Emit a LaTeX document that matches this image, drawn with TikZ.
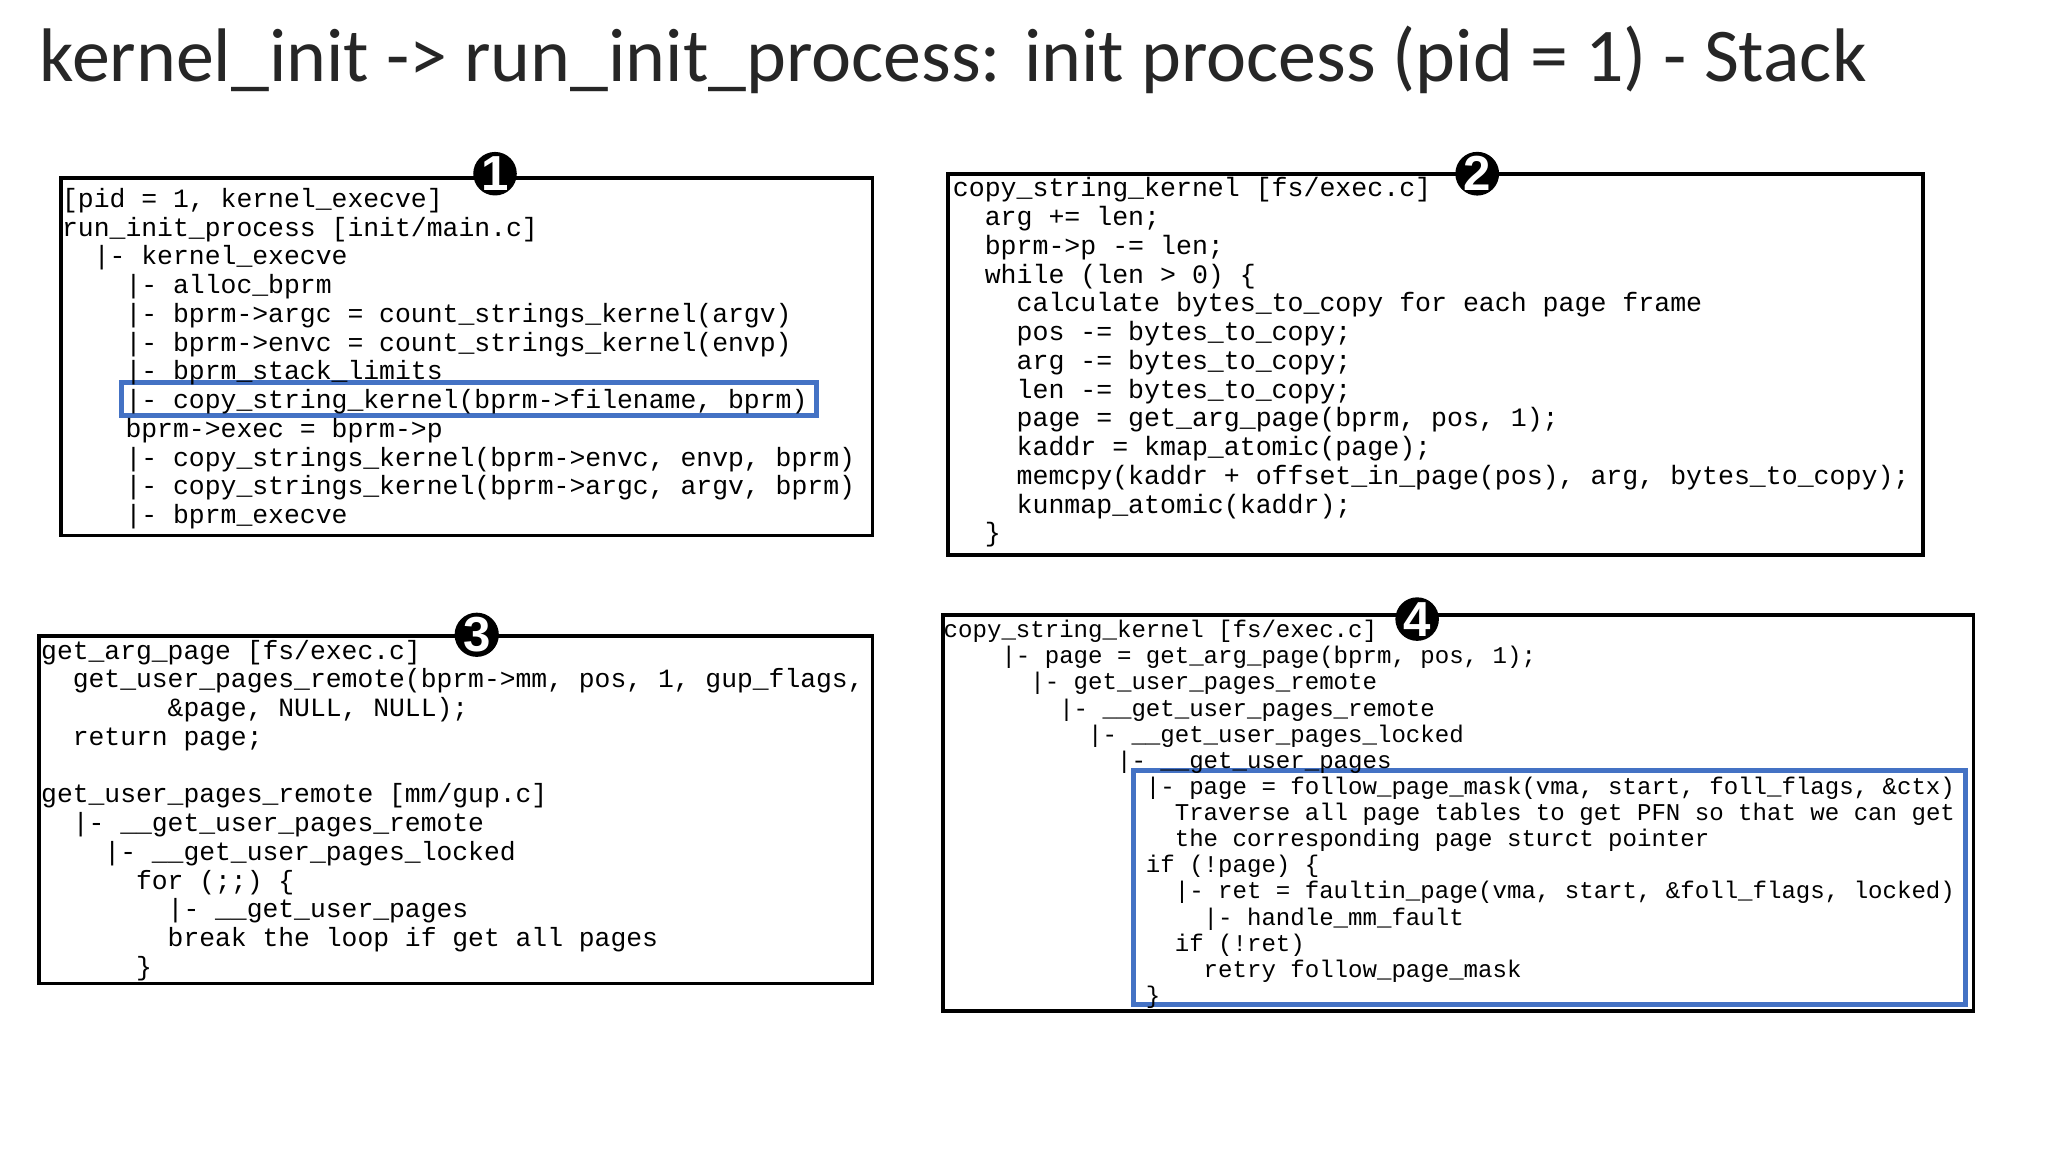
\documentclass[tikz,border=0pt]{standalone}
\usepackage{fontspec}
\setmainfont{Carlito}
\setmonofont{Liberation Mono}
\newfontfamily\badgefont{Liberation Sans}
\definecolor{hlblue}{HTML}{4472C4}
\newcommand{\I}[1]{\hspace*{#1\dimexpr 0.6em\relax}}
\begin{document}
\begin{tikzpicture}[x=0.01306cm,y=-0.01306cm,
  frame/.style={draw=black,line width=1.1pt},
  hl/.style={draw=hlblue,line width=1.4pt},
  code/.style={anchor=north west,inner sep=0pt,align=left},
  badge/.style={circle,fill=black,text=white,inner sep=0pt,minimum size=25*0.01306cm,font=\badgefont\bfseries\fontsize{14}{14}\selectfont}]
\useasboundingbox[fill=white] (0,0) rectangle (1568,882);
\node[anchor=west,inner sep=0pt,text=black!85,font=\fontsize{21.6}{24}\selectfont] (title) at (30,46) {kernel\_init -> run\_init\_process: init process (pid = 1) - Stack};

% box 1
\draw[frame] (47,136) rectangle (668,410);
\draw[hl] (93,293) rectangle (625,318);
\node[code,font=\ttfamily\fontsize{7.52}{8.18}\selectfont] (c1) at (47,142) {%
\rule{0pt}{0.8em}\I{0}[pid = 1, kernel\_execve]\\
run\_init\_process [init/main.c]\\
\I{2}|- kernel\_execve\\
\I{4}|- alloc\_bprm\\
\I{4}|- bprm->argc = count\_strings\_kernel(argv)\\
\I{4}|- bprm->envc = count\_strings\_kernel(envp)\\
\I{4}|- bprm\_stack\_limits\\
\I{4}|- copy\_string\_kernel(bprm->filename, bprm)\\
\I{4}bprm->exec = bprm->p\\
\I{4}|- copy\_strings\_kernel(bprm->envc, envp, bprm)\\
\I{4}|- copy\_strings\_kernel(bprm->argc, argv, bprm)\\
\I{4}|- bprm\_execve};
\node[badge] (b1) at (379,133) {1};

% box 2
\draw[frame] (726,133) rectangle (1472,425);
\node[code,font=\ttfamily\fontsize{7.56}{8.18}\selectfont] (c2) at (729,134) {%
\rule{0pt}{0.8em}copy\_string\_kernel [fs/exec.c]\\
\I{2}arg += len;\\
\I{2}bprm->p -= len;\\
\I{2}while (len > 0) \{\\
\I{4}calculate bytes\_to\_copy for each page frame\\
\I{4}pos -= bytes\_to\_copy;\\
\I{4}arg -= bytes\_to\_copy;\\
\I{4}len -= bytes\_to\_copy;\\
\I{4}page = get\_arg\_page(bprm, pos, 1);\\
\I{4}kaddr = kmap\_atomic(page);\\
\I{4}memcpy(kaddr + offset\_in\_page(pos), arg, bytes\_to\_copy);\\
\I{4}kunmap\_atomic(kaddr);\\
\I{2}\}};
\node[badge] (b2) at (1131,133) {2};

% box 3
\draw[frame] (30,487) rectangle (668,753);
\node[code,font=\ttfamily\fontsize{7.5}{8.18}\selectfont] (c3) at (31,488) {%
\rule{0pt}{0.8em}get\_arg\_page [fs/exec.c]\\
\I{2}get\_user\_pages\_remote(bprm->mm, pos, 1, gup\_flags,\\
\I{8}\&page, NULL, NULL);\\
\I{2}return page;\\
\mbox{}\\
get\_user\_pages\_remote [mm/gup.c]\\
\I{2}|- \_\_get\_user\_pages\_remote\\
\I{4}|- \_\_get\_user\_pages\_locked\\
\I{6}for (;;) \{\\
\I{8}|- \_\_get\_user\_pages\\
\I{8}break the loop if get all pages\\
\I{6}\}};
\node[badge] (b3) at (365,486) {3};

% box 4
\draw[frame] (722,471) rectangle (1511,774);
\draw[hl] (868,590) rectangle (1505,769);
\node[code,font=\ttfamily\fontsize{6.85}{7.43}\selectfont] (c4) at (722,473) {%
\rule{0pt}{0.8em}copy\_string\_kernel [fs/exec.c]\\
\I{4}|- page = get\_arg\_page(bprm, pos, 1);\\
\I{6}|- get\_user\_pages\_remote\\
\I{8}|- \_\_get\_user\_pages\_remote\\
\I{10}|- \_\_get\_user\_pages\_locked\\
\I{12}|- \_\_get\_user\_pages\\
\I{14}|- page = follow\_page\_mask(vma, start, foll\_flags, \&ctx)\\
\I{16}Traverse all page tables to get PFN so that we can get\\
\I{16}the corresponding page sturct pointer\\
\I{14}if (!page) \{\\
\I{16}|- ret = faultin\_page(vma, start, \&foll\_flags, locked)\\
\I{18}|- handle\_mm\_fault\\
\I{16}if (!ret)\\
\I{18}retry follow\_page\_mask\\
\I{14}\}};
\node[badge] (b4) at (1085,474) {4};
\end{tikzpicture}
\end{document}
